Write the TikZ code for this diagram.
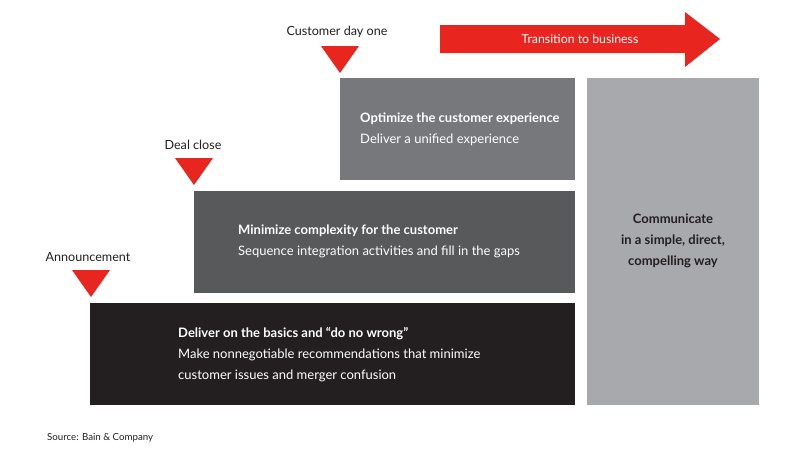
\documentclass[tikz,border=0pt]{standalone}
\usepackage{fontspec}
\setmainfont{Lato}
\definecolor{bred}{HTML}{E8251E}
\definecolor{gA}{HTML}{77787B}
\definecolor{gB}{HTML}{58595B}
\definecolor{gC}{HTML}{231F20}
\definecolor{gD}{HTML}{A7A9AC}
\definecolor{tx}{HTML}{231F20}
\begin{document}
\begin{tikzpicture}[x=1pt,y=-1pt,
  tri/.style={fill=bred},
  lbl/.style={font=\fontsize{12.6}{14}\selectfont,text=tx,inner sep=0},
  btxt/.style={font=\fontsize{13}{21}\selectfont,text=white,align=left,anchor=north west,inner sep=0}]
\useasboundingbox (0,0) rectangle (800,453);
\fill[gA] (340,78) rectangle (575,180);
\fill[gB] (194,191) rectangle (575,293);
\fill[gC] (90,303) rectangle (575,405);
\fill[gD] (587,78) rectangle (759,405);
\fill[bred] (440,25) -- (685,25) -- (685,12) -- (720,39) -- (685,67) -- (685,53) -- (440,53) -- cycle;
\node[font=\fontsize{12.3}{14}\selectfont,text=white,inner sep=0] (tr) at (580,39) {Transition to business};
\fill[tri] (321,46) -- (359,46) -- (340,73) -- cycle;
\fill[tri] (175,158) -- (213,158) -- (194,185) -- cycle;
\fill[tri] (72,270) -- (110,270) -- (91,297) -- cycle;
\node[lbl] (l1) at (337,32) {Customer day one};
\node[lbl] (l2) at (193,145) {Deal close};
\node[lbl] (l3) at (88,257) {Announcement};
\node[btxt] (t1) at (360,113) {\textbf{Optimize the customer experience}\\Deliver a unified experience};
\node[btxt] (t2) at (238,225) {\textbf{Minimize complexity for the customer}\\Sequence integration activities and fill in the gaps};
\node[btxt] (t3) at (178,327) {\textbf{Deliver on the basics and “do no wrong”}\\Make nonnegotiable recommendations that minimize\\customer issues and merger confusion};
\node[font=\fontsize{13}{21}\selectfont\bfseries,text=tx,align=center,inner sep=0] (t4) at (673,241) {Communicate\\in a simple, direct,\\compelling way};
\node[font=\fontsize{9.7}{11}\selectfont,text=tx,anchor=west,inner sep=0] (src) at (47,438) {Source: Bain \& Company};
\end{tikzpicture}
\end{document}
